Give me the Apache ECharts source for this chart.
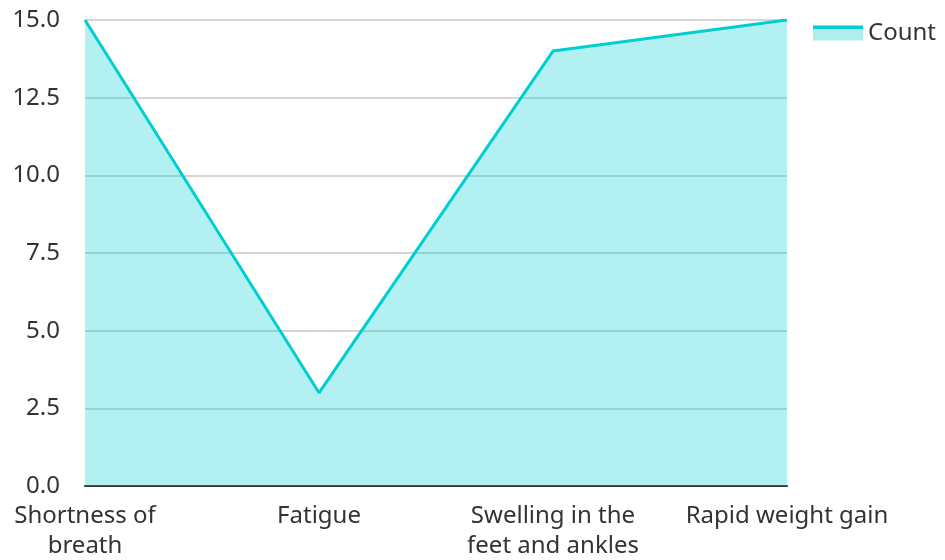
<!DOCTYPE html>
<html>
<head>
<meta charset="utf-8">
<script src="https://cdn.jsdelivr.net/npm/echarts@6/dist/echarts.min.js"></script>
<style>html,body{margin:0;padding:0;background:#fff}#c{width:945px;height:560px}</style>
</head>
<body>
<div id="c"></div>
<script>
var categories = ['Shortness of\nbreath', 'Fatigue', 'Swelling in the\nfeet and ankles', 'Rapid weight gain'];
var countValues = [15, 3, 14, 15];
var seriesName = 'Count';
var yMin = 0, yMax = 15, yInterval = 2.5;

var lineColor = '#00CED1';
var fillColor = '#b0eeee';
var chart = echarts.init(document.getElementById('c'), null, {renderer: 'canvas'});
chart.setOption({
  animation: false,
  textStyle: {fontFamily: 'Noto Sans'},
  grid: {left: 85, right: 158, top: 20, bottom: 74, containLabel: false, outerBoundsMode: 'none'},
  legend: {
    right: 4, top: 16,
    itemWidth: 50, itemHeight: 15, itemGap: 10,
    icon: 'rect',
    textStyle: {fontSize: 24, color: '#333', fontFamily: 'Noto Sans'},
    data: [{
      name: seriesName,
      itemStyle: {
        color: new echarts.graphic.LinearGradient(0, 0, 0, 1, [
          {offset: 0, color: lineColor}, {offset: 0.22, color: lineColor},
          {offset: 0.22, color: fillColor}, {offset: 1, color: fillColor}
        ])
      }
    }]
  },
  xAxis: {
    type: 'category',
    data: categories,
    boundaryGap: false,
    axisLine: {lineStyle: {color: '#333', width: 2}},
    axisTick: {show: false},
    axisLabel: {fontSize: 24, color: '#333', margin: 15, lineHeight: 30, interval: 0, fontFamily: 'Noto Sans'}
  },
  yAxis: {
    type: 'value',
    min: yMin, max: yMax, interval: yInterval,
    axisLine: {show: false},
    axisTick: {show: false},
    splitLine: {lineStyle: {color: '#c8c8c8', width: 1.5}},
    axisLabel: {fontSize: 24, color: '#333', margin: 25, fontFamily: 'Noto Sans',
      formatter: function (v) { return v.toFixed(1); }}
  },
  series: [{
    name: seriesName,
    type: 'line',
    data: countValues,
    symbol: 'none',
    lineStyle: {color: lineColor, width: 3},
    itemStyle: {color: lineColor},
    areaStyle: {color: lineColor, opacity: 0.3}
  }]
});
</script>
</body>
</html>
